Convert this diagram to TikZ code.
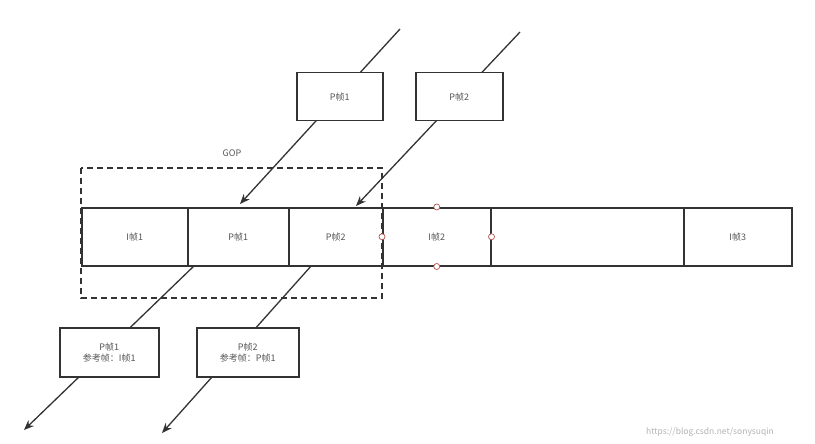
\documentclass[tikz,border=0pt]{standalone}
\usepackage{fontspec}
\setmainfont{Noto Sans CJK SC}
\usetikzlibrary{arrows.meta}
\definecolor{ln}{HTML}{333333}
\definecolor{tx}{HTML}{555555}
\definecolor{hd}{HTML}{B85450}
\tikzset{
  cell/.style={draw=ln,line width=1.5pt,fill=white,text=tx,font=\fontsize{9}{11}\selectfont},
  arr/.style={draw=ln,line width=1.3pt,-{Stealth[length=10pt,width=8pt]}},
  handle/.style={circle,draw=hd,fill=white,inner sep=0pt,minimum size=6pt,line width=0.7pt},
}
\begin{document}
\begin{tikzpicture}[x=1pt,y=-1pt]
\useasboundingbox (0,0) rectangle (815,444);
% lines behind boxes
\coordinate (t1) at (400,29); \coordinate (e1) at (240,204);
\coordinate (t2) at (520,32); \coordinate (e2) at (356,206);
\coordinate (b1) at (24,430); \coordinate (b2) at (162,433);
\draw[arr] (t1) -- (e1);
\draw[arr] (t2) -- (e2);
\coordinate (s1) at (195,265); \coordinate (s2) at (312,265);
\draw[arr] (s1) -- (b1);
\draw[arr] (s2) -- (b2);
% top boxes
\node[cell,minimum width=86pt,minimum height=48pt,anchor=north west] (tp1) at (296,72) {P帧1};
\node[cell,minimum width=87pt,minimum height=48pt,anchor=north west] (tp2) at (415,72) {P帧2};
% bottom boxes
\node[cell,minimum width=99pt,minimum height=49pt,anchor=north west,align=center] (bp1) at (59,327) {P帧1\\参考帧：I帧1};
\node[cell,minimum width=102pt,minimum height=49pt,anchor=north west,align=center] (bp2) at (196,327) {P帧2\\参考帧：P帧1};
% strip
\node[cell,minimum width=106pt,minimum height=58pt,anchor=north west] (c1) at (81,207) {I帧1};
\node[cell,minimum width=101pt,minimum height=58pt,anchor=north west] (c2) at (187,207) {P帧1};
\node[cell,minimum width=94pt,minimum height=58pt,anchor=north west] (c3) at (288,207) {P帧2};
\node[cell,minimum width=108pt,minimum height=58pt,anchor=north west] (c4) at (382,207) {I帧2};
\node[cell,minimum width=193pt,minimum height=58pt,anchor=north west] (c5) at (490,207) {};
\node[cell,minimum width=108pt,minimum height=58pt,anchor=north west] (c6) at (683,207) {I帧3};
% GOP dashed
\draw[ln,line width=1.5pt,dash pattern=on 6pt off 4pt] (81,168) rectangle (382,298);
\node[text=tx,font=\fontsize{9}{11}\selectfont] (gop) at (232,153) {GOP};
% handles
\node[handle] (h1) at (c4.north) {};
\node[handle] (h2) at (c4.south) {};
\node[handle] (h3) at (c4.west) {};
\node[handle] (h4) at (c4.east) {};
\node[text=gray!60,font=\fontsize{8.5}{10}\selectfont] (wm) at (710,432) {https://blog.csdn.net/sonysuqin};
\end{tikzpicture}
\end{document}
